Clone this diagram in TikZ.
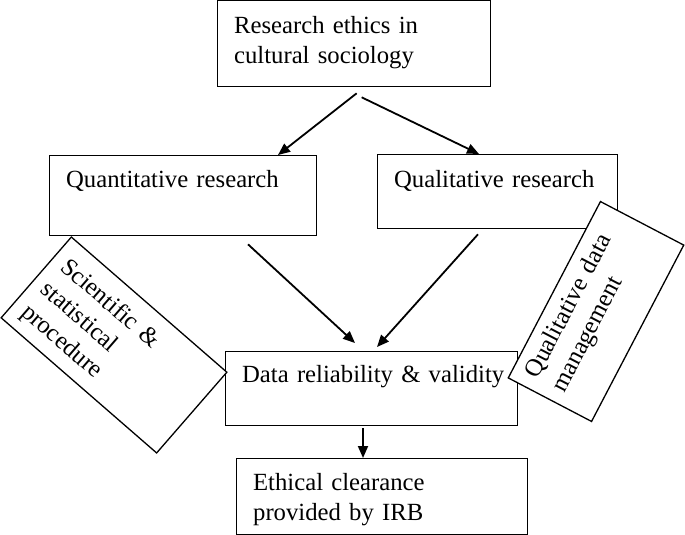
\documentclass[tikz,border=0pt]{standalone}
\usepackage{fontspec}
\setmainfont{Liberation Serif}
\usetikzlibrary{arrows.meta}
\begin{document}
\begin{tikzpicture}[x=1pt,y=-1pt,
  font=\fontsize{24.7}{30}\selectfont,
  box/.style={draw, line width=1.3pt, align=left, inner xsep=16.5pt, inner ysep=0pt, anchor=north west, fill=white},
  tilted/.style={draw, line width=1.3pt, align=left, inner xsep=12pt, inner ysep=0pt, fill=white},
  arr/.style={line width=1.8pt, -{Triangle[length=12pt,width=10pt]}}]
\useasboundingbox (0,0) rectangle (685,535);
% boxes
\node[box, text width=240pt, text height=33pt, text depth=53pt] (top) at (217,0)
  {Research ethics in\\cultural sociology};
\node[box, text width=234pt, text height=32pt, text depth=48pt] (quant) at (49,155)
  {\mbox{Quantitative research}};
\node[box, text width=207pt, text height=33pt, text depth=41pt] (qual) at (377,154)
  {\mbox{Qualitative research}};
\node[box, text width=259pt, text height=31pt, text depth=43pt] (data) at (225,351)
  {\mbox{Data reliability \& validity}};
\node[box, text width=258pt, text height=32pt, text depth=43.5pt] (irb) at (236,458)
  {Ethical clearance\\provided by IRB};
% tilted boxes
\node[tilted, rotate=-41, text width=182pt, text height=32pt, text depth=75pt] (sci) at (114,345)
  {Scientific \&\\statistical\\procedure};
\node[tilted, rotate=62.4, text width=175pt, text height=27pt, text depth=67pt] (qdm) at (596,311.5)
  {Qualitative data\\management};
% arrows
\draw[arr] ([xshift=2.5pt,yshift=-6pt]top.south) -- ([xshift=229pt]quant.north west);
\draw[arr] ([xshift=7.5pt,yshift=-10pt]top.south) -- ([xshift=102pt]qual.north west);
\draw[arr] ([xshift=199pt,yshift=-8pt]quant.south west) -- ([xshift=130pt,yshift=8pt]data.north west);
\draw[arr] ([xshift=101pt,yshift=-5pt]qual.south west) -- ([xshift=152pt,yshift=4pt]data.north west);
\draw[arr] ([xshift=138pt,yshift=-2pt]data.south west) -- ([xshift=127pt]irb.north west);
\end{tikzpicture}
\end{document}
